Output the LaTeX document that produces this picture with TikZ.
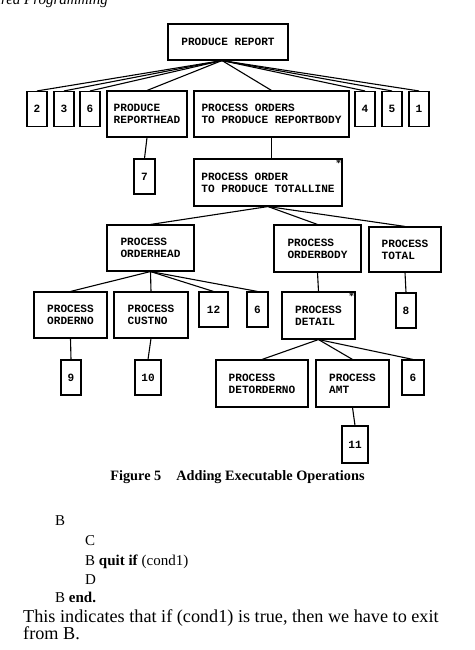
\documentclass[tikz,border=0pt]{standalone}
\usepackage{fontspec}
\setmainfont{Liberation Serif}
\newfontfamily\boxfont{Liberation Mono}

\begin{document}
\begin{tikzpicture}[x=1pt,y=-1pt]
	\tikzset{box/.style n args={2}{draw, line width=1.1pt, minimum width=#1pt, minimum height=#2pt, inner sep=0pt, align=left, font=\boxfont\bfseries\fontsize{11.1}{12}\selectfont},
		numbox/.style={box={20}{35}},
		link/.style={line width=1.1pt},
		star/.style={anchor=north east, inner sep=1.2pt, font=\bfseries\fontsize{10}{10}\selectfont}}
	\useasboundingbox (0,0) rectangle (474,650);
	
	% Running head
	\node[anchor=base east, inner sep=0pt, font=\itshape\fontsize{15}{17}\selectfont] (head) at (108,5) {Structured Programming};
	
	% Root
	\node[box={120}{36}] (rep) at (228,42) {PRODUCE REPORT};
	
	% Level 1
	\foreach \n/\x in {2/37,3/64,6/90,4/365,5/392,1/419}{
		\node[numbox] (t\n) at (\x,109) {\n};
	}
	\node[box={80}{46}] (rhead) at (147,114) {PRODUCE\\REPORTHEAD};
	\node[box={155}{46}] (rbody) at (271.5,114) {PROCESS ORDERS\\TO PRODUCE REPORTBODY};
	\foreach \c in {t2,t3,t6,rhead,rbody,t4,t5,t1}{
		\draw[link] ([xshift=-6pt]rep.south) -- (\c.north);
	}
	
	% Level 2
	\node[box={21}{35}] (t7) at (144.5,176.5) {7};
	\node[box={148}{47}] (totl) at (268,182.5) {PROCESS ORDER\\TO PRODUCE TOTALLINE};
	\node[star] (s1) at (totl.north east) {*};
	\draw[link] (rhead.south) -- (t7.north);
	\draw[link] (rbody.south) -- (rbody.south |- totl.north);
	
	% Level 3
	\node[box={87}{46}] (ohead) at (150.5,248) {PROCESS\\ORDERHEAD};
	\node[box={87}{47}] (obody) at (317.5,248.5) {PROCESS\\ORDERBODY};
	\node[box={72}{45}] (ptot) at (405,249.5) {PROCESS\\TOTAL};
	\foreach \c in {ohead,obody,ptot}{
		\draw[link] (totl.south) -- (\c.north);
	}
	
	% Level 4
	\node[box={73}{46}] (ordno) at (70.5,315) {PROCESS\\ORDERNO};
	\node[box={74}{46}] (custno) at (151,315) {PROCESS\\CUSTNO};
	\node[box={29}{35}] (t12) at (213.5,309.5) {12};
	\node[box={21}{35}] (t6b) at (257.5,309.5) {6};
	\node[box={73}{47}] (detail) at (318.5,315.5) {PROCESS\\DETAIL};
	\node[star] (s2) at (detail.north east) {*};
	\node[numbox] (t8) at (406,310.5) {8};
	\foreach \c in {ordno,custno,t12,t6b}{
		\draw[link] (ohead.south) -- (\c.north);
	}
	\draw[link] (obody.south) -- (detail.north);
	\draw[link] (ptot.south) -- (t8.north);
	
	% Level 5
	\node[numbox] (t9) at (71,377.5) {9};
	\node[box={26}{35}] (t10) at (148,377.5) {10};
	\node[box={92}{47}] (detord) at (262,383.5) {PROCESS\\DETORDERNO};
	\node[box={73}{47}] (amt) at (352.5,383.5) {PROCESS\\AMT};
	\node[box={22}{35}] (t6c) at (413,377.5) {6};
	\node[box={26}{37}] (t11) at (355,444.5) {11};
	\draw[link] (ordno.south) -- (t9.north);
	\draw[link] (custno.south) -- (t10.north);
	\foreach \c in {detord,amt,t6c}{
		\draw[link] (detail.south) -- (\c.north);
	}
	\draw[link] (amt.south) -- (t11.north);
	
	% Caption
	\node[anchor=base, inner sep=0pt, font=\bfseries\fontsize{14.3}{16}\selectfont] (cap) at (237.5,480) {Figure 5\hspace{15pt}Adding Executable Operations};
	
	% Text below
	\tikzset{code/.style={anchor=base west, inner sep=0pt, font=\fontsize{15}{17}\selectfont}}
	\node[code] (l1) at (55,525) {B};
	\node[code] (l2) at (85,545) {C};
	\node[code] (l3) at (85,565) {B \textbf{quit if} (cond1)};
	\node[code] (l4) at (85,584) {D};
	\node[code] (l5) at (55,602) {B \textbf{end.}};
	\node[anchor=base west, inner sep=0pt, align=left, font=\fontsize{18.2}{17}\selectfont] (para) at (23,639) {This indicates that if (cond1) is true, then we have to exit\\from B.};
\end{tikzpicture}
\end{document}
